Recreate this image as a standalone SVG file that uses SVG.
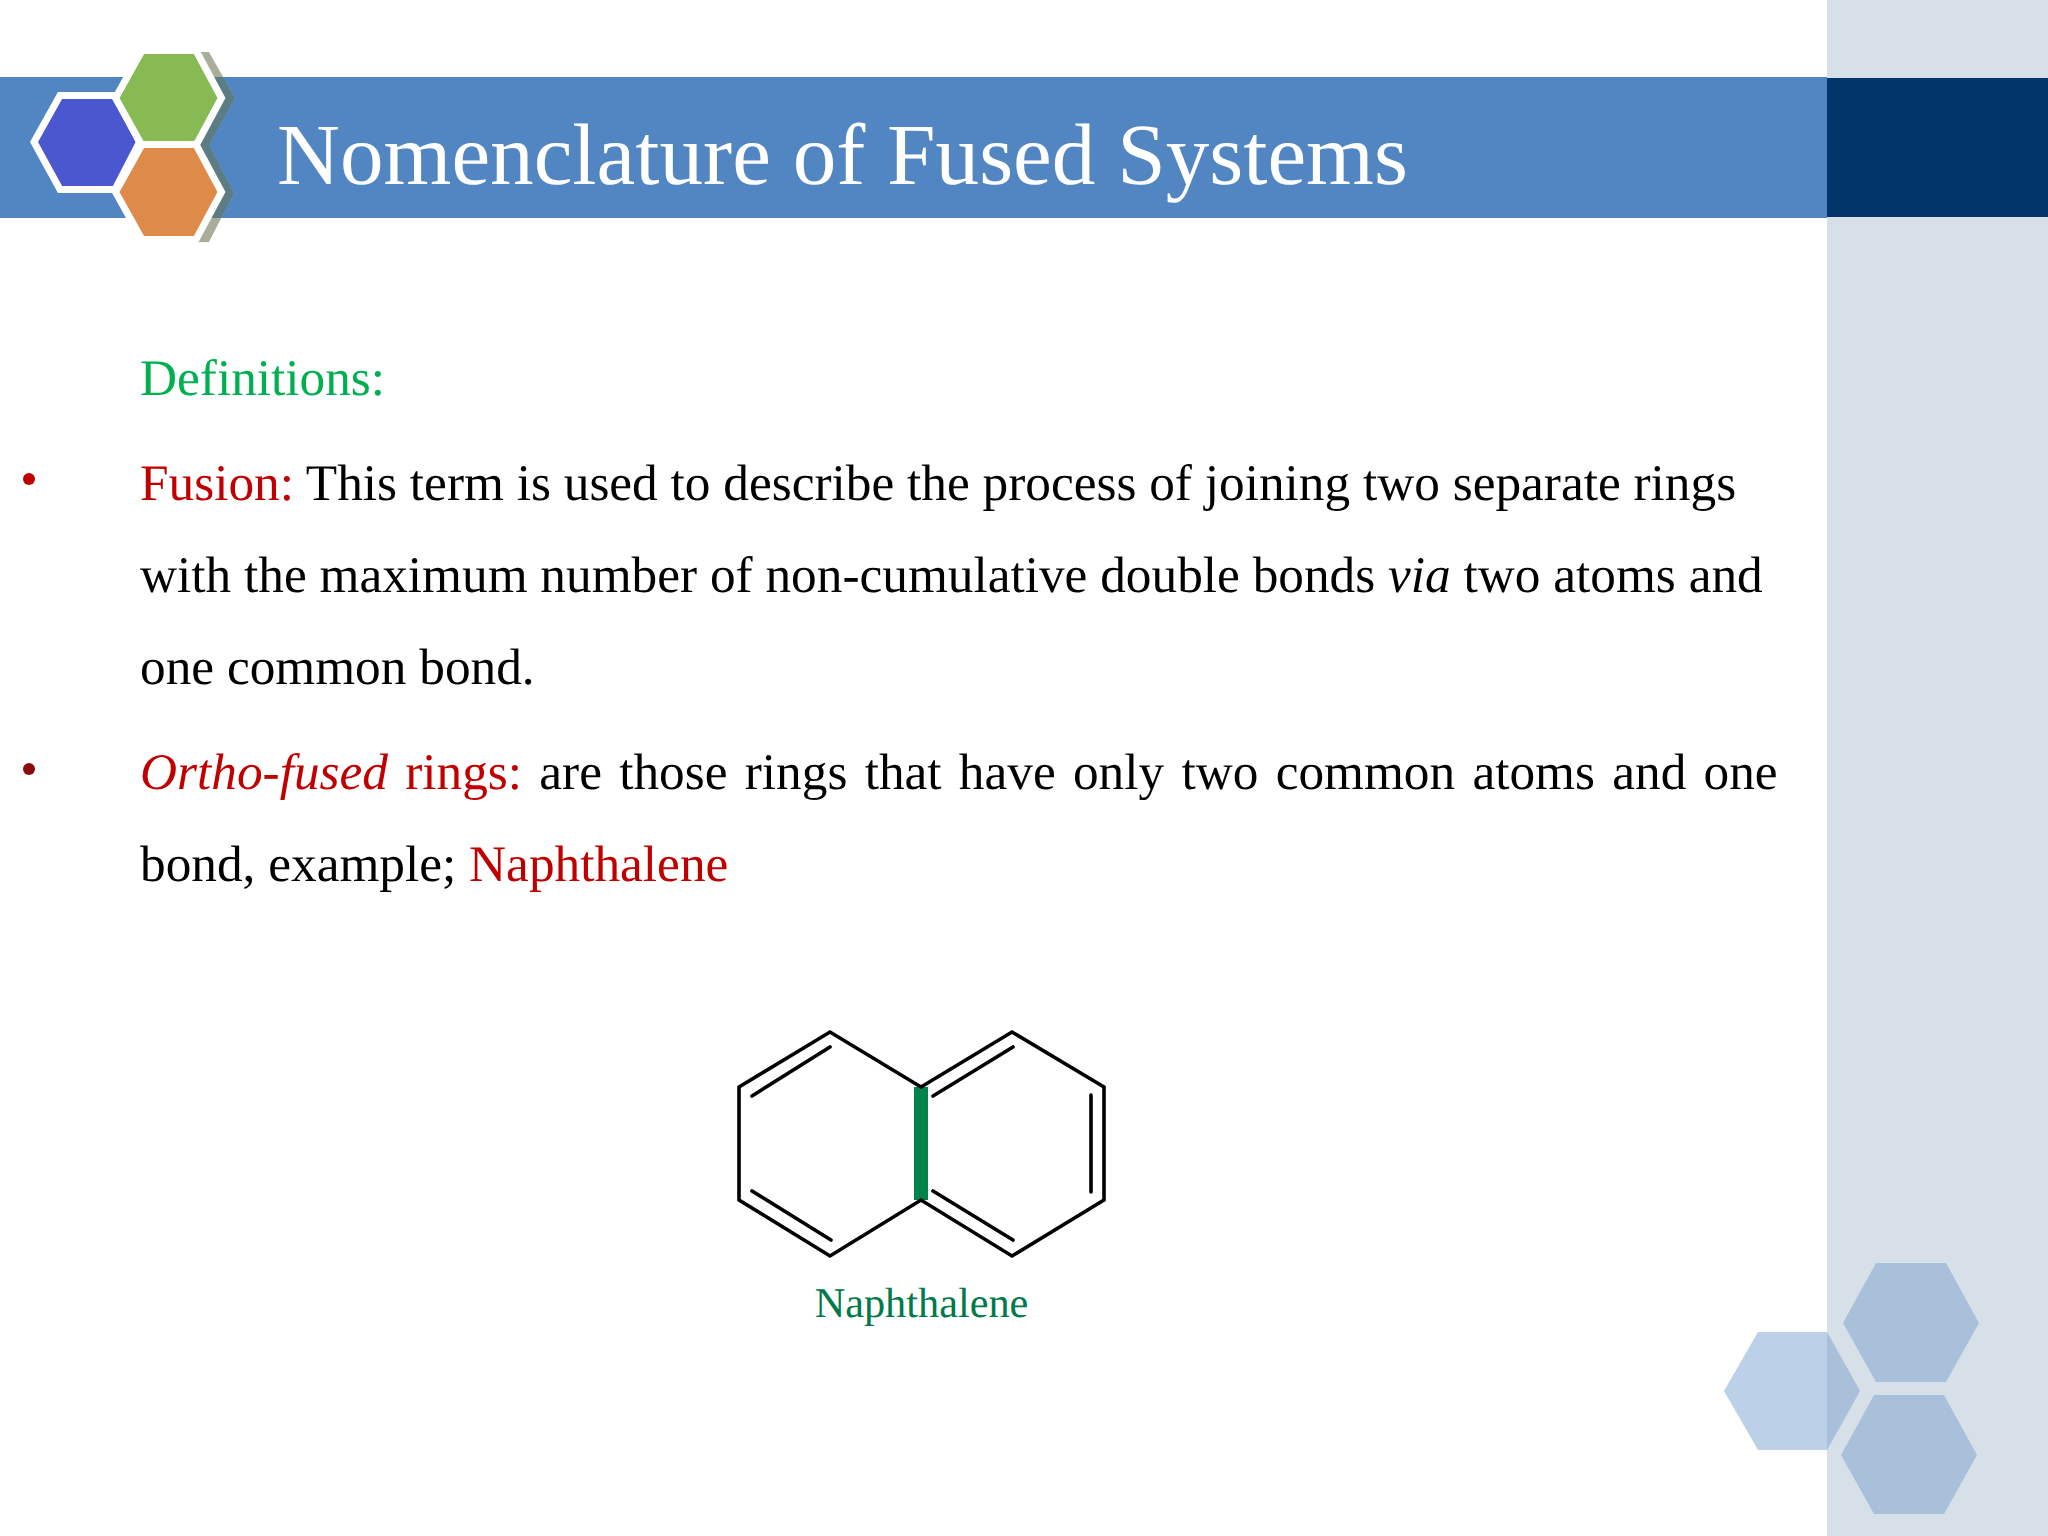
<svg xmlns="http://www.w3.org/2000/svg" width="2048" height="1536" viewBox="0 0 2048 1536">
<style>
text{font-family:"Liberation Serif","Times New Roman",serif;fill:#000;text-rendering:geometricPrecision}
.b{font-size:51.3px}.r{fill:#c00000}.g{fill:#00b050}.i{font-style:italic}
.bond{fill:none;stroke:#000;stroke-width:3.6px;stroke-linecap:round;stroke-linejoin:miter}
.back{fill:#a9c0db}
.hx{stroke:#fff;stroke-width:7px;stroke-linejoin:miter}
</style>
<defs>
<clipPath id="band"><rect y="77" width="400" height="141"/></clipPath>
<path id="shadow" d="M198 52H209L235 98L209 145L234 193L209 242L152 243L140 140Z"/>
</defs>
<rect width="2048" height="1536" fill="#fff"/>
<g id="sidebar"><rect x="1827" width="221" height="1536" fill="#d7e0e9"/></g>
<g id="header"><rect y="77" width="1827" height="141" fill="#5186c2"/><rect x="1827" y="78" width="221" height="139" fill="#02366a"/></g>
<g id="logo">
<use href="#shadow" fill="#a9ae9b"/>
<use href="#shadow" fill="#5b7b85" clip-path="url(#band)"/>
<polygon class="hx" points="60,95.500 115,95.500 139.500,142 115,189.500 60,189.500 34,142" fill="#4b57cf"/>
<polygon class="hx" points="142,50.500 196,50.500 221.500,98 196,145.500 142,145.500 115.500,98" fill="#88ba54"/>
<polygon class="hx" points="142,144.500 196,144.500 221.500,192 196,239.500 142,239.500 115.500,192" fill="#de8a48"/>
</g>
<text id="title" x="277" y="184" font-size="87.2" style="fill:#fff">Nomenclature of Fused Systems</text>
<g id="body">
<text class="b g" x="140" y="394.500">Definitions:</text>
<circle cx="29" cy="479" r="6" fill="#c00000"/>
<text class="b" x="140" y="500"><tspan class="r">Fusion:</tspan> This term is used to describe the process of joining two separate rings</text>
<text class="b" x="140" y="591.500">with the maximum number of non-cumulative double bonds <tspan class="i">via</tspan> two atoms and</text>
<text class="b" x="140" y="684">one common bond.</text>
<circle cx="29" cy="769" r="6" fill="#8a0b0b"/>
<text class="b" x="140" y="788.500" word-spacing="4.450"><tspan class="r i">Ortho-fused</tspan><tspan class="r"> rings:</tspan> are those rings that have only two common atoms and one</text>
<text class="b" x="140" y="881">bond, example; <tspan class="r">Naphthalene</tspan></text>
</g>
<g id="naphthalene">
<rect x="914" y="1087" width="14" height="113" fill="#00834a"/>
<path class="bond" d="M921 1087L830 1032L739 1087V1200L830 1256L921 1200L1012 1256L1104 1200V1087L1012 1032L921 1087"/>
<path class="bond" d="M752 1096L830 1047M752 1191L831 1240M933 1096L1013 1047M933 1191L1013 1240M1091 1095V1192"/>
<text x="921.500" y="1317" font-size="42.300" text-anchor="middle" style="fill:#007a4a">Naphthalene</text>
</g>
<g id="hexagons">
<polygon points="1758,1332 1827,1332 1860,1391 1827,1450 1758,1450 1724,1391" fill="#bcd1e7"/>
<polygon points="1827,1332 1860,1391 1827,1450" fill="#a9c0db"/>
<polygon class="back" points="1876,1263 1946,1263 1979,1323 1946,1382 1876,1382 1843,1323"/>
<polygon class="back" points="1874,1395 1944,1395 1977,1455 1944,1514 1874,1514 1841,1455"/>
</g>
</svg>
